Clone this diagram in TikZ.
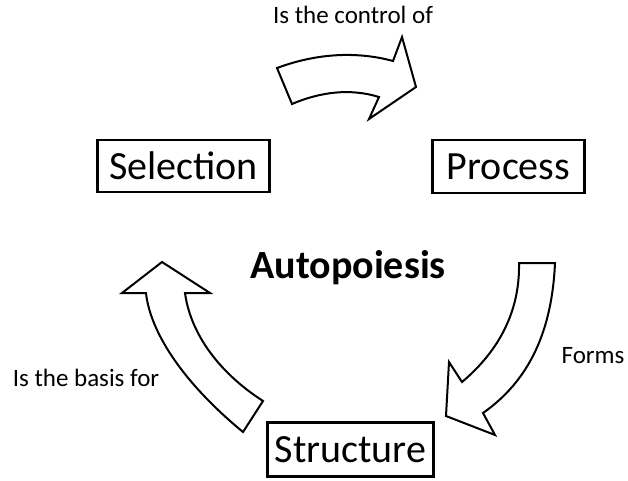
\documentclass[tikz,border=0pt]{standalone}
\usepackage{fontspec}
\setmainfont{Carlito}
\usetikzlibrary{positioning}
\begin{document}
\begin{tikzpicture} [x=1pt, y=-1pt, line join=miter,
     box/.style={draw, line width=2.6pt, inner sep=0pt, font=\fontsize{40}{40}\selectfont},
     blk/.style={draw, line width=2pt, fill=white},
     lbl/.style={font=\fontsize{25}{25}\selectfont}
   ]
\useasboundingbox (0,0) rectangle (628,480);
% the three boxes
\node (sel) [box, minimum width=172pt, minimum height=52pt] at (183.5,166) {Selection};
\node (proc) [box, minimum width=152pt, minimum height=53pt] at (508.5,166.5) {Process};
\node (struc) [box, minimum width=166pt, minimum height=54pt] at (350.5,449.5) {Structure};
\node (auto) at (348,268) {\fontsize{40}{40}\selectfont\bfseries Autopoiesis};
% hollow block arrows
\draw [blk] (277,68) .. controls (320,52) and (360,52) .. (393,61) -- (402,37) -- (416,87)
   -- (369,119) -- (379,97) .. controls (350,88) and (320,92) .. (292,104) -- cycle;
\draw [blk] (519,263) -- (555,263) .. controls (552,330) and (530,380) .. (483,413)
   -- (495,435) -- (446,416) -- (449,362) -- (462,382) .. controls (500,350) and (520,310) .. (519,263) -- cycle;
\draw [blk] (243,432) .. controls (180,380) and (150,330) .. (146,293) -- (122,293) -- (162,262)
   -- (210,293) -- (185,293) .. controls (190,330) and (215,370) .. (263,401) -- cycle;
\node (ctrl) [lbl] at (353,15) {Is the control of};
\node (forms) [lbl] at (593,356) {Forms};
\node (basis) [lbl] at (86,378) {Is the basis for};
\end{tikzpicture}
\end{document}
